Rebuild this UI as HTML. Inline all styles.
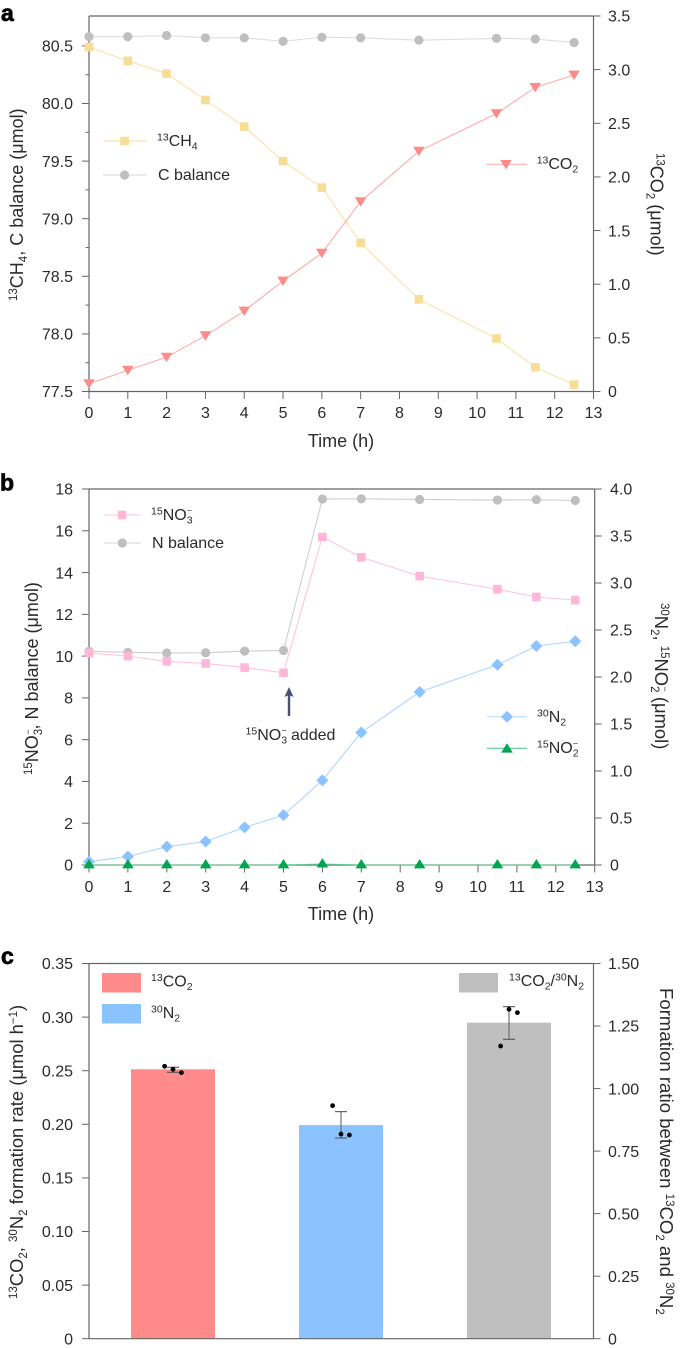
<!DOCTYPE html>
<html lang="en">
<head>
<meta charset="utf-8">
<title>Isotope labelling time courses and formation rates</title>
<style>
html,body{margin:0;padding:0;background:#fff;}
body{width:685px;height:1348px;overflow:hidden;}
svg{display:block;font-family:"Liberation Sans",sans-serif;fill:#2b2b2b;}
.title{font-size:18px;}
.leg{font-size:16px;}
.letter{font-size:23px;font-weight:bold;fill:#000;stroke:#000;stroke-width:.7px;}
</style>
</head>
<body>
<svg id="chart" xmlns="http://www.w3.org/2000/svg" width="685" height="1348" viewBox="0 0 685 1348">
  <rect width="685" height="1348" fill="#fff"/>
  <g id="plots"></g>

  <text class="letter" x="1" y="21">a</text>
  <text class="letter" x="0" y="490.5">b</text>
  <text class="letter" x="1" y="964">c</text>

  <!-- axis titles -->
  <text class="title" transform="translate(23,301) rotate(-90)"><tspan dy="-6" font-size="11.5">13</tspan><tspan dy="6">CH</tspan><tspan dy="4" font-size="11.5">4</tspan><tspan dy="-4">, C balance (μmol)</tspan></text>
  <text class="title" transform="translate(650.5,153) rotate(90)"><tspan dy="-6" font-size="11.5">13</tspan><tspan dy="6">CO</tspan><tspan dy="4" font-size="11.5">2</tspan><tspan dy="-4"> (μmol)</tspan></text>
  <text class="title" x="341" y="447" text-anchor="middle">Time (h)</text>

  <text class="title" transform="translate(38,775) rotate(-90)"><tspan dy="-6" font-size="11.5">15</tspan><tspan dy="6">NO</tspan><tspan dy="4" font-size="11.5">3</tspan><tspan dx="-6" dy="-11" font-size="9">−</tspan><tspan dy="7">, N balance (μmol)</tspan></text>
  <text class="title" style="font-size:18.4px" transform="translate(655,603) rotate(90)"><tspan dy="-6" font-size="11.5">30</tspan><tspan dy="6">N</tspan><tspan dy="4" font-size="11.5">2</tspan><tspan dy="-4">, </tspan><tspan dy="-6" font-size="11.5">15</tspan><tspan dy="6">NO</tspan><tspan dy="4" font-size="11.5">2</tspan><tspan dx="-6" dy="-11" font-size="9">−</tspan><tspan dy="7"> (μmol)</tspan></text>
  <text class="title" x="341" y="920" text-anchor="middle">Time (h)</text>

  <text class="title" style="font-size:18.4px" transform="translate(23,1299) rotate(-90)"><tspan dy="-6" font-size="11.5">13</tspan><tspan dy="6">CO</tspan><tspan dy="4" font-size="11.5">2</tspan><tspan dy="-4">, </tspan><tspan dy="-6" font-size="11.5">30</tspan><tspan dy="6">N</tspan><tspan dy="4" font-size="11.5">2</tspan><tspan dy="-4"> formation rate (μmol h</tspan><tspan dy="-6" font-size="11.5">−1</tspan><tspan dy="6">)</tspan></text>
  <text class="title" style="font-size:18.6px" transform="translate(660,988) rotate(90)">Formation ratio between <tspan dy="-6" font-size="11.5">13</tspan><tspan dy="6">CO</tspan><tspan dy="4" font-size="11.5">2</tspan><tspan dy="-4"> and </tspan><tspan dy="-6" font-size="11.5">30</tspan><tspan dy="6">N</tspan><tspan dy="4" font-size="11.5">2</tspan></text>

  <!-- panel a legend -->
  <g>
    <line x1="103" x2="147" y1="141" y2="141" stroke="#fae6ae" stroke-width="1.2"/>
    <rect x="120.3" y="136.7" width="8.6" height="8.6" fill="#f8dd96"/>
    <text class="leg" x="157" y="146"><tspan dy="-5.5" font-size="10.5">13</tspan><tspan dy="5.5">CH</tspan><tspan dy="3.5" font-size="10.5">4</tspan></text>
  </g>
  <g>
    <line x1="103" x2="147" y1="175" y2="175" stroke="#dedede" stroke-width="1.2"/>
    <circle cx="124.6" cy="175" r="4.6" fill="#bfbfbf"/>
    <text class="leg" x="158" y="180">C balance</text>
  </g>
  <g>
    <line x1="486" x2="527" y1="164.3" y2="164.3" stroke="#ffb0b0" stroke-width="1.2"/>
    <polygon points="500.2,160 511.8,160 506,169.4" fill="#ff8a8a"/>
    <text class="leg" x="536.7" y="169"><tspan dy="-5.5" font-size="10.5">13</tspan><tspan dy="5.5">CO</tspan><tspan dy="3.5" font-size="10.5">2</tspan></text>
  </g>

  <!-- panel b legend -->
  <g>
    <line x1="104" x2="141" y1="515" y2="515" stroke="#ffcfe6" stroke-width="1.2"/>
    <rect x="117.7" y="510.7" width="8.6" height="8.6" fill="#ffb6d9"/>
    <text class="leg" x="151" y="520"><tspan dy="-5.5" font-size="10.5">15</tspan><tspan dy="5.5">NO</tspan><tspan dy="3.5" font-size="10.5">3</tspan><tspan dx="-5.5" dy="-10" font-size="8.5">−</tspan></text>
  </g>
  <g>
    <line x1="104" x2="141" y1="543" y2="543" stroke="#dedede" stroke-width="1.2"/>
    <circle cx="122.3" cy="543" r="4.6" fill="#bfbfbf"/>
    <text class="leg" x="152" y="548">N balance</text>
  </g>
  <g>
    <line x1="487" x2="527" y1="716.7" y2="716.7" stroke="#b9dcff" stroke-width="1.2"/>
    <polygon points="507,710.7 513,716.7 507,722.7 501,716.7" fill="#8ac3ff"/>
    <text class="leg" x="537" y="722"><tspan dy="-5.5" font-size="10.5">30</tspan><tspan dy="5.5">N</tspan><tspan dy="3.5" font-size="10.5">2</tspan></text>
  </g>
  <g>
    <line x1="487" x2="527" y1="748.3" y2="748.3" stroke="#5fca95" stroke-width="1.2"/>
    <polygon points="507,743.2 512.8,752.6 501.2,752.6" fill="#00a550"/>
    <text class="leg" x="537" y="753"><tspan dy="-5.5" font-size="10.5">15</tspan><tspan dy="5.5">NO</tspan><tspan dy="3.5" font-size="10.5">2</tspan><tspan dx="-5.5" dy="-10" font-size="8.5">−</tspan></text>
  </g>

  <!-- panel b annotation -->
  <g>
    <line x1="289" x2="289" y1="716" y2="692" stroke="#45526e" stroke-width="2.4"/>
    <polygon points="289,687 293.6,697 289,695 284.4,697" fill="#45526e"/>
    <text class="leg" x="245.5" y="740"><tspan dy="-5.5" font-size="10.5">15</tspan><tspan dy="5.5">NO</tspan><tspan dy="3.5" font-size="10.5">3</tspan><tspan dx="-5.5" dy="-10" font-size="8.5">−</tspan><tspan dy="6.5" dx="0"> added</tspan></text>
  </g>

  <!-- panel c legend -->
  <g>
    <rect x="102" y="973" width="39" height="19.5" fill="#ff8a8a"/>
    <text class="leg" x="151" y="986.5"><tspan dy="-5.5" font-size="10.5">13</tspan><tspan dy="5.5">CO</tspan><tspan dy="3.5" font-size="10.5">2</tspan></text>
  </g>
  <g>
    <rect x="102" y="1004" width="39" height="19.5" fill="#8ac3ff"/>
    <text class="leg" x="151" y="1018"><tspan dy="-5.5" font-size="10.5">30</tspan><tspan dy="5.5">N</tspan><tspan dy="3.5" font-size="10.5">2</tspan></text>
  </g>
  <g>
    <rect x="459" y="973" width="39" height="19.5" fill="#bfbfbf"/>
    <text class="leg" x="509" y="986"><tspan dy="-5.5" font-size="10.5">13</tspan><tspan dy="5.5">CO</tspan><tspan dy="3.5" font-size="10.5">2</tspan><tspan dy="-3.5">/</tspan><tspan dy="-5.5" font-size="10.5">30</tspan><tspan dy="5.5">N</tspan><tspan dy="3.5" font-size="10.5">2</tspan></text>
  </g>
</svg>

<script>
// ---------- data ----------
const timeHours = [0, 1, 2, 3, 4, 5, 6, 7, 8.5, 10.5, 11.5, 12.5];
const xTickLabels = [0, 1, 2, 3, 4, 5, 6, 7, 8, 9, 10, 11, 12, 13];

const ch4Values = [80.49, 80.37, 80.26, 80.03, 79.80, 79.50, 79.27, 78.79, 78.30, 77.96, 77.71, 77.56];
const cBalanceValues = [80.58, 80.58, 80.59, 80.57, 80.57, 80.54, 80.575, 80.57, 80.55, 80.565, 80.56, 80.53];
const co2Values = [0.073, 0.198, 0.32, 0.52, 0.75, 1.03, 1.29, 1.77, 2.24, 2.59, 2.835, 2.95];
const panelALeftTicks = ["77.5", "78.0", "78.5", "79.0", "79.5", "80.0", "80.5"];
const panelALeftMinorTicks = [77.75, 78.25, 78.75, 79.25, 79.75, 80.25];
const panelARightTicks = ["0", "0.5", "1.0", "1.5", "2.0", "2.5", "3.0", "3.5"];

const no3Values = [10.15, 10.0, 9.75, 9.65, 9.45, 9.2, 15.7, 14.73, 13.83, 13.2, 12.83, 12.68];
const nBalanceValues = [10.23, 10.18, 10.15, 10.16, 10.24, 10.27, 17.52, 17.53, 17.5, 17.47, 17.49, 17.45];
const n2Values = [0.035, 0.09, 0.195, 0.25, 0.40, 0.53, 0.90, 1.41, 1.84, 2.13, 2.33, 2.38];
const no2Values = [0, 0, 0, 0, 0, 0, 0.01, 0, 0, 0, 0, 0];
const panelBLeftTicks = ["0", "2", "4", "6", "8", "10", "12", "14", "16", "18"];
const panelBRightTicks = ["0", "0.5", "1.0", "1.5", "2.0", "2.5", "3.0", "3.5", "4.0"];

const barCategories = ["13CO2", "30N2", "13CO2/30N2"];
const barValues = [0.2513, 0.1993, 1.2634];
const barErrorHigh = [0.2532, 0.2118, 1.3275];
const barErrorLow = [0.2485, 0.1872, 1.197];
const barReplicates = [[0.2541, 0.2513, 0.2482], [0.2174, 0.1909, 0.19], [1.170, 1.317, 1.3035]];
const panelCLeftTicks = ["0", "0.05", "0.10", "0.15", "0.20", "0.25", "0.30", "0.35"];
const panelCRightTicks = ["0", "0.25", "0.50", "0.75", "1.00", "1.25", "1.50"];

// ---------- axis functions ----------
const AX = "#666";
const xA = t => 89 + t * (593.5 - 89) / 13;
const yAL = v => 391.5 - (v - 77.5) * 115.2;
const yAR = v => 391.5 - v * (391.5 - 16) / 3.5;
const xB = t => 89 + t * (594.7 - 89) / 13;
const yBL = v => 865 - v * (865 - 489) / 18;
const yBR = v => 865 - v * (865 - 489) / 4;
const xC = i => 173 + 168 * i;
const yCL = v => 1338.7 - v * (1338.7 - 963.5) / 0.35;
const yCR = v => 1338.7 - v * (1338.7 - 963.5) / 1.5;

// ---------- drawing ----------
const NS = "http://www.w3.org/2000/svg";
const root = document.getElementById("plots");
function mk(tag, attrs, parent) {
  const n = document.createElementNS(NS, tag);
  for (const k in attrs) n.setAttribute(k, attrs[k]);
  (parent || root).appendChild(n);
  return n;
}
function axisLine(x1, y1, x2, y2, w) {
  const el = mk("line", {x1, y1, x2, y2, stroke: AX, "stroke-width": w || 1.2});
  
  
  return el;
}
function tickLine(x1, y1, x2, y2) {
  const el = mk("line", {x1, y1, x2, y2, stroke: AX, "stroke-width": 1});
  
  
  return el;
}
function tickText(str, x, y, anchor) {
  const el = mk("text", {x, y, "text-anchor": anchor, "font-size": 16});
  el.textContent = str;
  
  
  return el;
}
function frame(left, right, top, bottom) {
  axisLine(left, top, right, top);
  axisLine(left, top, left, bottom);
  axisLine(right, top, right, bottom);
  axisLine(left, bottom, right, bottom);
}
function yTicks(labels, scale, axisX, dir, labelX, anchor) {
  labels.forEach(label => {
    const y = scale(parseFloat(label));
    tickLine(axisX, y, axisX + dir * 7, y);
    tickText(label, labelX, y + 5.7, anchor);
  });
}
function xTicks(scale, bottom, labelY) {
  xTickLabels.forEach(t => {
    tickLine(scale(t), bottom, scale(t), bottom + 7.5);
    tickText(String(t), scale(t), labelY, "middle");
  });
}
function series(name, xs, ys, xScale, yScale, lineColor, fill, shape) {
  const g = mk("g", {});
  
  
  const pts = xs.map((t, i) => xScale(t).toFixed(2) + "," + yScale(ys[i]).toFixed(2)).join(" ");
  const line = mk("polyline", {points: pts, fill: "none", stroke: lineColor, "stroke-width": 1.1}, g);
  
  
  xs.forEach((t, i) => {
    const x = xScale(t), y = yScale(ys[i]);
    let m;
    if (shape === "square") m = mk("rect", {x: x - 4.3, y: y - 4.3, width: 8.6, height: 8.6, fill}, g);
    if (shape === "circle") m = mk("circle", {cx: x, cy: y, r: 4.6, fill}, g);
    if (shape === "down") m = mk("polygon", {points: `${x-5.8},${y-4.4} ${x+5.8},${y-4.4} ${x},${y+5}`, fill}, g);
    if (shape === "up") m = mk("polygon", {points: `${x},${y-6} ${x+5.8},${y+3.4} ${x-5.8},${y+3.4}`, fill}, g);
    if (shape === "diamond") m = mk("polygon", {points: `${x},${y-6} ${x+6},${y} ${x},${y+6} ${x-6},${y}`, fill}, g);
    
    
  });
}

// panel a
frame(89, 593.5, 16, 391.5);
yTicks(panelALeftTicks, v => yAL(v), 89, -1, 73, "end");
panelALeftMinorTicks.forEach(v => tickLine(89, yAL(v), 85.5, yAL(v)));
yTicks(panelARightTicks, v => yAR(v), 593.5, 1, 608, "start");
xTicks(xA, 391.5, 418);
series("c-balance-series", timeHours, cBalanceValues, xA, yAL, "#dedede", "#bfbfbf", "circle");
series("13ch4-series", timeHours, ch4Values, xA, yAL, "#fae3a8", "#f8dd96", "square");
series("13co2-series", timeHours, co2Values, xA, yAR, "#ffabab", "#ff8a8a", "down");

// panel b
frame(89, 594.7, 489, 865);
yTicks(panelBLeftTicks, v => yBL(v), 89, -1, 73, "end");
yTicks(panelBRightTicks, v => yBR(v), 594.7, 1, 610, "start");
xTicks(xB, 865, 892);
series("n-balance-series", timeHours, nBalanceValues, xB, yBL, "#cfcfcf", "#bfbfbf", "circle");
series("15no3-series", timeHours, no3Values, xB, yBL, "#ffc4e0", "#ffb6d9", "square");
series("30n2-series", timeHours, n2Values, xB, yBR, "#aed6ff", "#8ac3ff", "diamond");
series("15no2-series", timeHours, no2Values, xB, yBR, "#5fca95", "#00a550", "up");

// panel c
const barColors = ["#ff8a8a", "#8ac3ff", "#bfbfbf"];
barCategories.forEach((cat, i) => {
  const scale = i === 2 ? yCR : yCL;
  const cx = xC(i);
  const bar = mk("rect", {x: cx - 42, y: scale(barValues[i]), width: 84, height: 1338.7 - scale(barValues[i]), fill: barColors[i]});
  
  

  const stem = mk("line", {x1: cx, x2: cx, y1: scale(barErrorHigh[i]), y2: scale(barErrorLow[i]), stroke: "#666", "stroke-width": 1.1});
  
  
  const capHigh = mk("line", {x1: cx - 6, x2: cx + 6, y1: scale(barErrorHigh[i]), y2: scale(barErrorHigh[i]), stroke: "#555", "stroke-width": 1.1});
  
  
  const capLow = mk("line", {x1: cx - 6, x2: cx + 6, y1: scale(barErrorLow[i]), y2: scale(barErrorLow[i]), stroke: "#555", "stroke-width": 1.1});
  
  

  barReplicates[i].forEach((v, j) => {
    const dot = mk("circle", {cx: cx + (j - 1) * 8.4, cy: scale(v), r: 2.4, fill: "#000"});
    
    
  });
});
frame(89, 593.5, 963.5, 1338.7);
yTicks(panelCLeftTicks, v => yCL(v), 89, -1, 73, "end");
yTicks(panelCRightTicks, v => yCR(v), 593.5, 1, 608, "start");
</script>
</body>
</html>
